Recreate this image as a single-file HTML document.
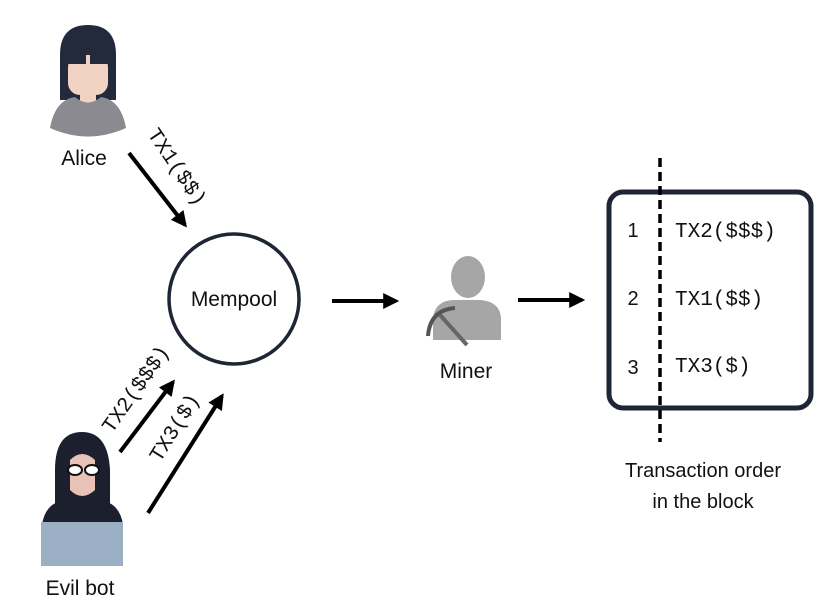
<!DOCTYPE html>
<html><head><meta charset="utf-8"><style>
html,body{margin:0;padding:0;background:#fff;}
svg{display:block;}
.s{font-family:"Liberation Sans",sans-serif;fill:#111;}
.m{font-family:"Liberation Mono",monospace;fill:#111;}
</style></head><body>
<svg width="828" height="610" viewBox="0 0 828 610" xmlns="http://www.w3.org/2000/svg">
<defs>
<marker id="b" viewBox="0 0 10 10" markerWidth="16" markerHeight="16" refX="8" refY="5" orient="auto" markerUnits="userSpaceOnUse">
<path d="M0,0 L10,5 L0,10 Z" fill="#000"/>
</marker>
</defs>
<!-- Alice -->
<path d="M60,55 Q60,25 88,25 Q116,25 116,55 L116,100 L60,100 Z" fill="#222a3b"/>
<rect x="68" y="55" width="40" height="40" rx="12" fill="#f2d2c2"/>
<path d="M68,52 L86,52 L86,64 L68,64 Z M90,52 L108,52 L108,64 L90,64 Z" fill="#222a3b"/>
<rect x="80" y="88" width="16" height="14" fill="#f2d2c2"/>
<path d="M50,128 Q55,100 75,97 Q88,108 101,97 Q121,100 126,128 Q88,145 50,128 Z" fill="#8a8a90"/>
<text x="84" y="165" class="s" font-size="21" text-anchor="middle">Alice</text>
<line x1="129" y1="153" x2="185" y2="225" stroke="#000" stroke-width="4" marker-end="url(#b)"/>
<text class="m" font-size="21" transform="translate(147,134) rotate(56)">TX1($$)</text>
<!-- Mempool -->
<circle cx="234" cy="299" r="65" fill="none" stroke="#1e2636" stroke-width="3.5"/>
<text x="234" y="306" class="s" font-size="21" text-anchor="middle">Mempool</text>
<line x1="332" y1="301" x2="396" y2="301" stroke="#000" stroke-width="4" marker-end="url(#b)"/>
<!-- Miner -->
<ellipse cx="468" cy="277" rx="17" ry="21" fill="#a6a6a6"/>
<path d="M433,340 L433,318 Q435,300 455,300 L481,300 Q500,302 501,318 L501,340 Z" fill="#a6a6a6"/>
<path d="M428,336 Q430,310 455,308" fill="none" stroke="#555" stroke-width="4"/>
<line x1="440" y1="315" x2="467" y2="345" stroke="#666" stroke-width="4"/>
<text x="466" y="378" class="s" font-size="21" text-anchor="middle">Miner</text>
<line x1="518" y1="300" x2="582" y2="300" stroke="#000" stroke-width="4" marker-end="url(#b)"/>
<!-- Block -->
<rect x="609" y="192" width="202" height="216" rx="14" fill="none" stroke="#1e2636" stroke-width="5"/>
<line x1="660" y1="158" x2="660" y2="442" stroke="#000" stroke-width="3.5" stroke-dasharray="9,5"/>
<text x="633" y="237" class="s" font-size="20" text-anchor="middle">1</text>
<text x="633" y="305" class="s" font-size="20" text-anchor="middle">2</text>
<text x="633" y="374" class="s" font-size="20" text-anchor="middle">3</text>
<text x="675" y="237" class="m" font-size="21">TX2($$$)</text>
<text x="675" y="305" class="m" font-size="21">TX1($$)</text>
<text x="675" y="372" class="m" font-size="21">TX3($)</text>
<text x="703" y="477" class="s" font-size="20" text-anchor="middle">Transaction order</text>
<text x="703" y="508" class="s" font-size="20" text-anchor="middle">in the block</text>
<!-- Evil bot -->
<path d="M55,520 L55,470 Q55,432 82,432 Q108,432 110,470 L110,520 Z" fill="#1c1f2e"/>
<path d="M70,460 Q82,448 95,460 L95,490 Q82,502 70,490 Z" fill="#e8c2b6"/>
<ellipse cx="75" cy="470" rx="7" ry="5" fill="#fff" stroke="#111" stroke-width="2"/>
<ellipse cx="92" cy="470" rx="7" ry="5" fill="#fff" stroke="#111" stroke-width="2"/>
<path d="M42,525 Q45,503 65,500 L100,500 Q120,503 123,525 Z" fill="#1c1f2e"/>
<rect x="41" y="522" width="82" height="44" fill="#9aaec4"/>
<text x="80" y="595" class="s" font-size="21" text-anchor="middle">Evil bot</text>
<line x1="120" y1="452" x2="173" y2="382" stroke="#000" stroke-width="4" marker-end="url(#b)"/>
<line x1="148" y1="513" x2="222" y2="396" stroke="#000" stroke-width="4" marker-end="url(#b)"/>
<text class="m" font-size="21" transform="translate(112,434) rotate(-55)">TX2($$$)</text>
<text class="m" font-size="21" transform="translate(160,463) rotate(-58)">TX3($)</text>
</svg>
</body></html>
